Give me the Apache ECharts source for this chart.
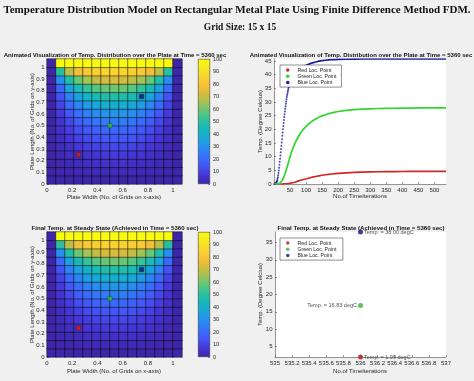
<!DOCTYPE html>
<html><head><meta charset="utf-8">
<script src="https://cdn.jsdelivr.net/npm/echarts@6/dist/echarts.min.js"></script>
<style>html,body{margin:0;padding:0;background:#f0f0f0}#c{width:474px;height:381px}</style>
</head><body><div id="c"></div>
<script>
// ---------------- DATA ----------------
const gridIdx = ['0','1','2','3','4','5','6','7','8','9','10','11','12','13','14'];
// steady-state plate temperatures, rows bottom (y=0) to top (y=1)
const tempRows = [
  [0,0,0,0,0,0,0,0,0,0,0,0,0,0,0],
  [0,0.6,1.1,1.6,2.0,2.3,2.4,2.5,2.4,2.3,2.0,1.6,1.1,0.6,0],
  [0,1.2,2.3,3.2,4.0,4.6,5.0,5.1,5.0,4.6,4.0,3.2,2.3,1.2,0],
  [0,1.8,3.5,5.0,6.3,7.2,7.8,8.0,7.8,7.2,6.3,5.0,3.5,1.8,0],
  [0,2.6,5.0,7.1,8.9,10.2,11.0,11.3,11.0,10.2,8.9,7.1,5.0,2.6,0],
  [0,3.5,6.7,9.6,11.9,13.7,14.7,15.1,14.7,13.7,11.9,9.6,6.7,3.5,0],
  [0,4.6,8.8,12.6,15.6,17.8,19.1,19.6,19.1,17.8,15.6,12.6,8.8,4.6,0],
  [0,5.9,11.5,16.2,20.0,22.8,24.5,25.0,24.5,22.8,20.0,16.2,11.5,5.9,0],
  [0,7.8,14.9,20.9,25.6,28.9,30.9,31.5,30.9,28.9,25.6,20.9,14.9,7.8,0],
  [0,10.2,19.4,26.8,32.5,36.4,38.6,39.4,38.6,36.4,32.5,26.8,19.4,10.2,0],
  [0,13.8,25.5,34.6,41.1,45.4,47.9,48.7,47.9,45.4,41.1,34.6,25.5,13.8,0],
  [0,19.3,34.4,45.0,52.0,56.4,58.8,59.5,58.8,56.4,52.0,45.0,34.4,19.3,0],
  [0,29.1,47.8,58.9,65.5,69.3,71.3,72.0,71.3,69.3,65.5,58.9,47.8,29.1,0],
  [0,49.4,68.6,77.3,81.7,84.1,85.3,85.6,85.3,84.1,81.7,77.3,68.6,49.4,0],
  [0,100,100,100,100,100,100,100,100,100,100,100,100,100,0]
];
const locNames = ['Red Loc. Point','Green Loc. Point','Blue Loc. Point'];
const locX = [0.25, 0.5, 0.75];
const locY = [0.25, 0.5, 0.75];
const colorbarTop = [100];

// time history (iteration number -> temperature)
const iterX = [1,2,3,4,5,6,7,8,9,10,11,12,13,14,15,16,17,18,19,20,21,22,23,24,25,26,27,28,29,30,
  31,32,33,34,35,36,37,38,39,40,41,42,43,44,45,46,47,48,49,50,51,52,53,54,55,56,
  60,65,70,75,80,85,90,95,100,110,120,130,140,150,160,170,180,190,200,
  225,250,275,300,325,350,375,400,425,450,475,500,525,536];
const redY = [0,0,0,0,0,0,0,0,0,0,0,0,0,0,0,0,0,0,0,0.01,0.01,0.015,0.02,0.02,0.025,0.03,0.035,0.04,0.045,0.05,
  0.055,0.06,0.07,0.075,0.08,0.09,0.1,0.11,0.115,0.12,0.13,0.14,0.15,0.16,0.17,0.18,0.2,0.21,0.23,0.25,0.27,0.29,0.31,0.33,0.35,0.37,
  0.5,0.65,0.85,1.05,1.25,1.45,1.6,1.75,1.9,2.2,2.5,2.75,3.0,3.2,3.38,3.53,3.66,3.77,3.87,
  4.07,4.22,4.33,4.42,4.48,4.52,4.55,4.57,4.58,4.59,4.6,4.6,4.6,4.6];
const greenY = [0,0,0,0,0,0,0,0,0,0,0,0,0,0,0.05,0.1,0.15,0.2,0.3,0.4,0.5,0.65,0.8,1.0,1.2,1.4,1.6,1.85,2.1,2.4,
  2.7,3.0,3.3,3.6,4.0,4.3,4.7,5.1,5.5,5.9,6.3,6.7,7.1,7.5,7.9,8.3,8.7,9.1,9.5,9.9,10.3,10.7,11.1,11.5,11.9,12.2,
  13.4,14.8,16.0,17.1,18.1,19.0,19.8,20.5,21.1,22.2,23.1,23.8,24.4,24.9,25.3,25.7,26.0,26.3,26.5,
  26.9,27.2,27.4,27.5,27.6,27.65,27.7,27.75,27.75,27.8,27.8,27.8,27.8,27.8];
const blueY = [0,0,0.05,0.1,0.2,0.3,0.5,0.7,1.0,1.4,1.9,2.5,3.2,4.0,4.9,5.9,7.0,8.1,9.2,10.4,11.6,12.8,14.0,15.2,16.4,17.6,18.8,20.0,21.2,22.3,
  23.4,24.5,25.5,26.5,27.5,28.4,29.3,30.2,31.0,31.8,32.5,33.2,33.8,34.4,35.0,35.5,36.0,36.4,36.8,37.2,37.5,37.8,38.1,38.4,38.6,38.8,
  39.5,40.2,40.8,41.4,41.9,42.3,42.7,43.1,43.4,43.9,44.3,44.6,44.9,45.1,45.25,45.35,45.45,45.5,45.55,
  45.6,45.65,45.7,45.7,45.7,45.7,45.7,45.7,45.7,45.7,45.7,45.7,45.7,45.7];

// final steady-state values
const finalIter = [536, 536, 536];
const finalTemp = [1.99, 16.83, 38.00];

// tick labels
const heatXTicks = ['0','0.2','0.4','0.6','0.8','1'];
const heatYTicks = ['0','0.1','0.2','0.3','0.4','0.5','0.6','0.7','0.8','0.9','1'];

// ---------------- STYLE ----------------
const parula = ['#3e26a8','#4536d6','#4554f5','#3670fb','#2a8cf0','#1ba5da','#13b6be','#29bfa2','#5ac67e','#9bc35a','#d3bb3e','#f7c03a','#fad331','#f6ea21','#f9fb0e'];
const lineCol = ['#d42525','#2fd62f','#1c1c9c'];
const dotCol = ['#b41818','#35b035','#10107e'];
const ink = '#262626';
const FF = '"Liberation Sans", Arial, sans-serif';

const heatData = [];
tempRows.forEach((row, j) => row.forEach((v, i) => heatData.push([i, j, v])));
const pairs = (xs, ys) => xs.map((x, k) => [x, ys[k]]);
const splitAt = 56;
const blueDots = pairs(iterX.slice(0, splitAt), blueY.slice(0, splitAt));
const blueLine = pairs(iterX.slice(46), blueY.slice(46));

const HW = 135, HH = 125;
const G = {
  heatTop: {left: 47, top: 59, width: HW, height: HH},
  heatBot: {left: 47, top: 232, width: HW, height: HH},
  cbTop: {left: 198, top: 59, width: 12, height: HH},
  cbBot: {left: 198, top: 232, width: 12, height: HH},
  line: {left: 274, top: 59, width: 172, height: 125},
  scat: {left: 275, top: 232, width: 171, height: 125}
};
const grids = [G.heatTop, G.heatTop, G.cbTop, G.line, G.heatBot, G.heatBot, G.cbBot, G.scat]
  .map(g => Object.assign({outerBoundsMode: 'none', containLabel: false, show: false}, g));
grids[3].show = true; grids[3].backgroundColor = '#fff'; grids[3].borderWidth = 0;
grids[7].show = true; grids[7].backgroundColor = '#fff'; grids[7].borderWidth = 0;

const tickLbl = {fontSize: 6, color: ink, fontFamily: FF};
const catAxis = gi => ({type: 'category', gridIndex: gi, data: gridIdx, show: false, boundaryGap: true});
const heatVal = (gi, isY) => {
  const step = isY ? 0.1 : 0.2, labels = isY ? heatYTicks : heatXTicks;
  return {
    type: 'value', gridIndex: gi, min: 0, max: 15/14, interval: step,
    axisLine: {show: false}, splitLine: {show: false},
    axisTick: {show: true, inside: true, length: 2, lineStyle: {color: ink, width: 0.5}},
    axisLabel: Object.assign({margin: isY ? 2.5 : 3, showMaxLabel: false,
      formatter: v => labels[Math.round(v / step)] || ''}, tickLbl)
  };
};
const axLine = {show: true, lineStyle: {color: '#555', width: 0.6}};
const axTick = {show: true, inside: true, length: 2, lineStyle: {color: '#555', width: 0.6}};

const xAxes = [
  catAxis(0), heatVal(1, false), {type: 'category', gridIndex: 2, data: ['cb'], show: false},
  {type: 'value', gridIndex: 3, min: 0, max: 536, interval: 50, axisLine: axLine, axisTick: axTick, splitLine: {show: false},
   axisLabel: Object.assign({margin: 3, showMaxLabel: false, formatter: v => v === 0 ? '' : String(v)}, tickLbl)},
  catAxis(4), heatVal(5, false), {type: 'category', gridIndex: 6, data: ['cb'], show: false},
  {type: 'value', gridIndex: 7, min: 535, max: 537, interval: 0.2, axisLine: axLine, axisTick: axTick, splitLine: {show: false},
   axisLabel: Object.assign({margin: 3, formatter: v => String(Math.round(v * 10) / 10)}, tickLbl)}
];
const cbAxis = gi => ({type: 'value', gridIndex: gi, position: 'right', min: 0, max: 100, interval: 10,
  axisLine: {show: false}, splitLine: {show: false},
  axisTick: {show: true, inside: true, length: 2, lineStyle: {color: ink, width: 0.5}},
  axisLabel: Object.assign({margin: 3}, tickLbl, {fontSize: 5.5})});
const yAxes = [
  catAxis(0), heatVal(1, true), cbAxis(2),
  {type: 'value', gridIndex: 3, min: 0, max: 45.7, interval: 5, axisLine: axLine, axisTick: axTick, splitLine: {show: false},
   axisLabel: Object.assign({margin: 2.5, showMaxLabel: false}, tickLbl)},
  catAxis(4), heatVal(5, true), cbAxis(6),
  {type: 'value', gridIndex: 7, min: 1.99, max: 38, splitNumber: 7, axisLine: axLine, axisTick: axTick, splitLine: {show: false},
   axisLabel: Object.assign({margin: 2.5, showMinLabel: false, showMaxLabel: false}, tickLbl)}
];

const heatSeries = gi => ({type: 'heatmap', xAxisIndex: gi, yAxisIndex: gi, data: heatData,
  itemStyle: {borderColor: 'rgba(0,0,0,0.8)', borderWidth: 0.6}, emphasis: {disabled: true}});
const cbSeries = gi => ({type: 'bar', xAxisIndex: gi, yAxisIndex: gi, data: colorbarTop, barWidth: '100%', silent: true,
  itemStyle: {borderColor: ink, borderWidth: 0.5,
    color: {type: 'linear', x: 0, y: 1, x2: 0, y2: 0,
      colorStops: parula.map((c, k) => ({offset: k / (parula.length - 1), color: c}))}}});
const locSymbols = ['rect', 'circle', 'rect'];
const locSeries = gi => locNames.map((n, k) => ({type: 'scatter', xAxisIndex: gi, yAxisIndex: gi, silent: true,
  data: [[locX[k], locY[k]]], symbol: locSymbols[k], symbolSize: k === 1 ? 5 : 4.5,
  itemStyle: {color: [ '#e01818', '#38c038', '#0c0c8a'][k], borderColor: '#222', borderWidth: 0.5}, z: 5}));

const series = [
  heatSeries(0), ...locSeries(1), cbSeries(2),
  {name: locNames[0], type: 'line', xAxisIndex: 3, yAxisIndex: 3, data: pairs(iterX, redY), showSymbol: false,
   lineStyle: {color: lineCol[0], width: 1.7}, itemStyle: {color: lineCol[0]}},
  {name: locNames[1], type: 'line', xAxisIndex: 3, yAxisIndex: 3, data: pairs(iterX, greenY), showSymbol: false,
   lineStyle: {color: lineCol[1], width: 1.7}, itemStyle: {color: lineCol[1]}},
  {name: locNames[2], type: 'line', xAxisIndex: 3, yAxisIndex: 3, data: blueLine, showSymbol: false,
   lineStyle: {color: lineCol[2], width: 1.7}, itemStyle: {color: lineCol[2]}},
  {name: locNames[2], type: 'scatter', xAxisIndex: 3, yAxisIndex: 3, data: blueDots, symbolSize: 2,
   itemStyle: {color: lineCol[2]}},
  heatSeries(4), ...locSeries(5), cbSeries(6),
  ...locNames.map((n, k) => ({name: n + ' ', type: 'scatter', xAxisIndex: 7, yAxisIndex: 7,
    data: [[finalIter[k], finalTemp[k]]], symbolSize: 5, itemStyle: {color: dotCol[k]},
    label: {show: true, position: k === 1 ? 'left' : 'right', distance: 1, fontSize: 5.5, color: ink, fontFamily: FF,
      formatter: p => 'Temp. = ' + p.value[1].toFixed(2) + ' degC'}}))
];
const heatIdx = series.map((s, k) => s.type === 'heatmap' ? k : -1).filter(k => k >= 0);

const legendBase = {orient: 'vertical', left: 280, itemWidth: 3.5, itemHeight: 3.5, itemGap: 0, icon: 'circle',
  padding: [2, 5, 1.5, 6], backgroundColor: '#fff', borderColor: '#444', borderWidth: 0.6, borderRadius: 0,
  selectedMode: false, textStyle: {fontSize: 5.2, lineHeight: 6.2, color: ink, fontFamily: FF, padding: [0, 0, 0, 3]}};
const legends = [
  Object.assign({}, legendBase, {top: 65, data: locNames.map((n, k) => ({name: n, itemStyle: {color: lineCol[k]}}))}),
  Object.assign({}, legendBase, {top: 238, data: locNames.map((n, k) => ({name: n + ' ', itemStyle: {color: dotCol[k]}}))})
];

const txt = (x, y, text, size, opts) => Object.assign({type: 'text', x, y, silent: true,
  style: Object.assign({text, fontSize: size, fontFamily: FF, fill: ink, align: 'center', verticalAlign: 'middle'}, (opts || {}).style || {})},
  opts && opts.rotation ? {rotation: opts.rotation} : {});
const TB = {style: {fontWeight: 'bold', fill: '#111'}};
const SERIF = '"Liberation Serif", "Times New Roman", serif';
const graphic = [
  txt(237, 10, 'Temperature Distribution Model on Rectangular Metal Plate Using Finite Difference Method FDM.', 11,
    {style: {fontWeight: 'bold', fill: '#111', fontFamily: SERIF}}),
  txt(240, 28, 'Grid Size: 15 x 15', 9.5, {style: {fontWeight: 'bold', fill: '#111', fontFamily: SERIF}}),
  txt(115, 55, 'Animated Visualization of Temp. Distribution over the Plate at Time = 5360 sec', 6.0, TB),
  txt(361, 55, 'Animated Visualization of Temp. Distribution over the Plate at Time = 5360 sec', 6.0, TB),
  txt(115, 228, 'Final Temp. at Steady State (Achieved in Time = 5360 sec)', 6.1, TB),
  txt(361, 228, 'Final Temp. at Steady State (Achieved in Time = 5360 sec)', 6.1, TB),
  txt(114, 197.5, 'Plate Width (No. of Grids on x-axis)', 6),
  txt(114, 371.5, 'Plate Width (No. of Grids on x-axis)', 6),
  txt(32, 121.5, 'Plate Length (No. of Grids on y-axis)', 6, {rotation: Math.PI / 2}),
  txt(32, 294.5, 'Plate Length (No. of Grids on y-axis)', 6, {rotation: Math.PI / 2}),
  txt(360, 196, 'No.of TimeIterations', 6),
  txt(360, 371.5, 'No.of TimeIterations', 6),
  txt(260, 121.5, 'Temp. (Degree Celcius)', 6, {rotation: Math.PI / 2}),
  txt(260, 294.5, 'Temp. (Degree Celcius)', 6, {rotation: Math.PI / 2})
];

const chart = echarts.init(document.getElementById('c'), null, {renderer: 'canvas'});
chart.setOption({
  animation: false,
  backgroundColor: '#f0f0f0',
  textStyle: {fontFamily: FF},
  grid: grids, xAxis: xAxes, yAxis: yAxes,
  visualMap: [{type: 'continuous', min: 0, max: 100, show: false, seriesIndex: heatIdx,
    inRange: {color: parula}}],
  legend: legends,
  series: series,
  graphic: graphic
});
</script></body></html>
